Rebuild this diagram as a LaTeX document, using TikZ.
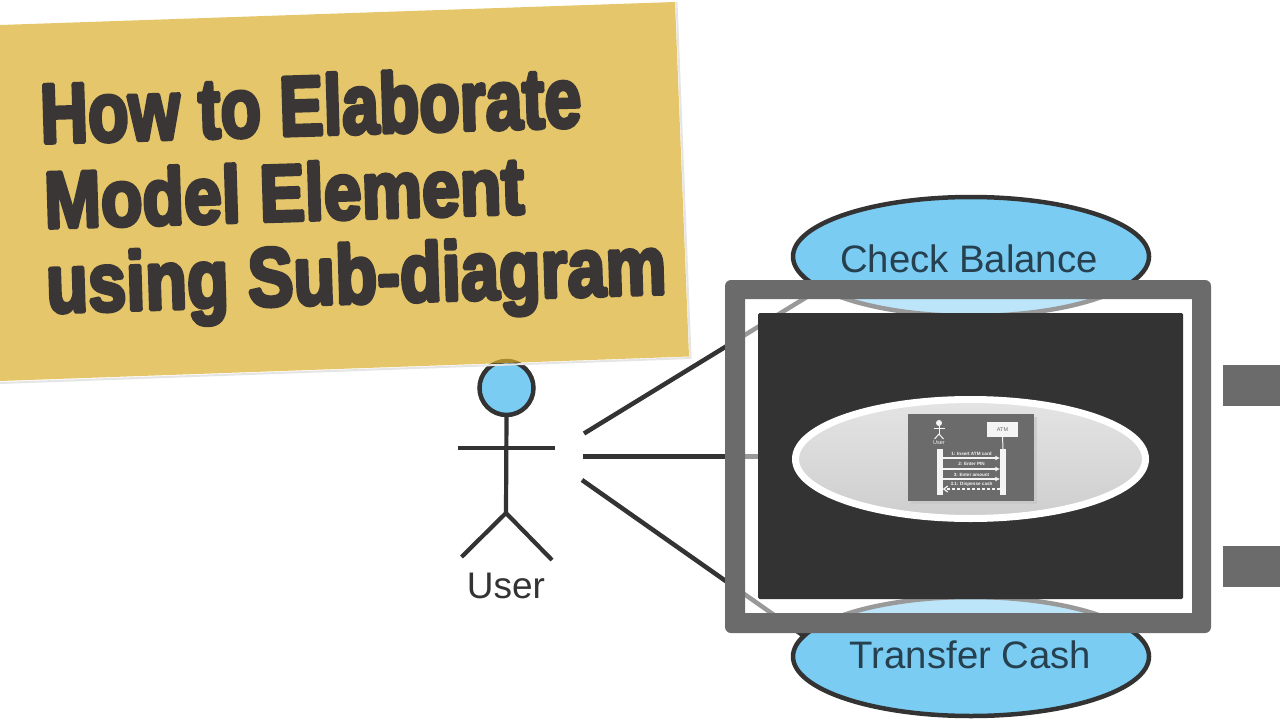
\documentclass[tikz,border=0pt]{standalone}
\usepackage{fontspec}
\usepackage{graphicx}
\setmainfont{Liberation Sans}
\newfontfamily\titlefont[FakeBold=5]{Liberation Sans Bold}
\usetikzlibrary{shapes.geometric,arrows.meta,calc}
\definecolor{ink}{HTML}{333333}
\definecolor{sky}{HTML}{7ACCF3}
\definecolor{slate}{HTML}{6B6B6B}
\definecolor{ucink}{HTML}{27404F}
\definecolor{gold}{HTML}{DAAF2C}
\definecolor{titleink}{HTML}{3A3636}
\definecolor{subline}{HTML}{F4F4F4}
\definecolor{ellipsetop}{HTML}{E4E4E4}
\definecolor{ellipsebot}{HTML}{CECECE}
\tikzset{
  usecase/.style={ellipse,draw=ink,line width=4.5pt,fill=sky,minimum width=356pt,minimum height=119pt,inner sep=0pt,outer sep=0pt},
  uclabel/.style={anchor=base,inner sep=0pt,text=ucink,font=\fontsize{38.3pt}{40pt}\selectfont},
  assoc/.style={draw=ink,line width=4.5pt},
  limb/.style={draw=ink,line width=4.2pt},
  titleline/.style={anchor=base west,inner sep=0pt,outer sep=0pt,text=titleink,rotate=1.75,font=\titlefont},
  stub/.style={fill=slate,draw=none,inner sep=0pt,outer sep=0pt,minimum height=41pt},
  subbar/.style={fill=subline,draw=none,inner sep=0pt,outer sep=0pt,minimum width=5.5pt,minimum height=46pt},
  submsg/.style={draw=subline,line width=1.2pt,-{Latex[length=5pt,width=5pt]}},
  sublabel/.style={inner sep=0pt,text=subline,font=\bfseries\fontsize{4.6pt}{5pt}\selectfont},
}
\begin{document}
\begin{tikzpicture}[x=1pt,y=-1pt]
\useasboundingbox (0,0) rectangle (1280,720);
\fill[white] (0,0) rectangle (1280,720);

% use cases
\node[usecase] (check) at (971,256.5) {};
\node[uclabel] (checkText) at (969,272) {Check Balance};
\node[usecase] (transfer) at (971,656.5) {};
\node[uclabel] (transferText) at (970.5,668) {Transfer Cash};

% actor
\node[circle,draw=ink,line width=4.5pt,fill=sky,minimum size=54pt,inner sep=0pt,outer sep=0pt] (head) at (506.5,388) {};
\coordinate (hip) at (506,513);
\coordinate (armL) at (458,448);
\coordinate (armR) at (555,448);
\coordinate (legL) at (461.5,557);
\coordinate (legR) at (552,560);
\draw[limb] (head.south) -- (hip);
\draw[limb] (armL) -- (armR);
\draw[limb] (legL) -- (hip) -- (legR);
\node[anchor=base,inner sep=0pt,text=ink,font=\fontsize{37pt}{40pt}\selectfont] (user) at (506,598) {User};

% associations
\coordinate (a1) at (584,433.5);
\coordinate (a2) at (583,456.5);
\coordinate (a3) at (582,480);
\coordinate (mid) at (800,456.5);
\draw[assoc] (a1) -- (check.192);
\draw[assoc] (a2) -- (mid);
\draw[assoc] (a3) -- (transfer.173);

% translucent inside of the window
\fill[white,opacity=.5] (745,299) rectangle (1192,613);
% window frame
\path[fill=slate,even odd rule] [rounded corners=6pt] (725,280) rectangle (1211,633) [sharp corners] (745,299) rectangle (1192,613);
% dark panel
\node[fill=ink,draw=none,rounded corners=1.5pt,inner sep=0pt,outer sep=0pt,minimum width=425pt,minimum height=286pt] (panel) at (970.5,456) {};

% central use case
\node[ellipse,draw=white,line width=7pt,top color=ellipsetop,bottom color=ellipsebot,minimum width=350pt,minimum height=119pt,inner sep=0pt,outer sep=0pt] (elab) at (970.5,459) {};

% sub-diagram
\fill[gray!45!white,opacity=.7] (911,417) rectangle (1037,504);
\node[fill=slate,inner sep=0pt,outer sep=0pt,minimum width=126pt,minimum height=87pt] (sub) at (971,457.5) {};
\node[circle,fill=subline,inner sep=0pt,minimum size=6pt] (shead) at (939,423) {};
\coordinate (ship) at (939,434);
\draw[subline,line width=1pt] (shead.south) -- (ship);
\draw[subline,line width=1pt] (933.5,428.5) -- (944.5,428.5);
\draw[subline,line width=1pt] (934.5,439) -- (ship) -- (943.5,439);
\node[sublabel,font=\fontsize{5.5pt}{6pt}\selectfont] (suser) at (939,443) {User};
\node[fill=subline,draw=none,inner sep=0pt,outer sep=0pt,minimum width=31pt,minimum height=15pt,text=slate,font=\fontsize{5.5pt}{6pt}\selectfont] (atm) at (1002.5,429.5) {ATM};
\node[subbar] (barU) at (940,472) {};
\node[subbar] (barA) at (1003,472) {};
\draw[subline,line width=1pt] (atm.south) -- (barA.north);
\draw[submsg] ($(barU.north east)!.196!(barU.south east)$) -- ($(barA.north west)!.196!(barA.south west)$);
\draw[submsg] ($(barU.north east)!.435!(barU.south east)$) -- ($(barA.north west)!.435!(barA.south west)$);
\draw[submsg] ($(barU.north east)!.652!(barU.south east)$) -- ($(barA.north west)!.652!(barA.south west)$);
\draw[draw=subline,line width=1.2pt,dash pattern=on 3pt off 2pt,-{Straight Barb[length=4pt,width=6pt]}] ($(barA.north west)!.87!(barA.south west)$) -- ($(barU.north east)!.87!(barU.south east)$);
\node[sublabel] (m1) at (971.5,453.5) {1: Insert ATM card};
\node[sublabel] (m2) at (971.5,464) {2: Enter PIN};
\node[sublabel] (m3) at (971.5,475) {3: Enter amount};
\node[sublabel] (m4) at (971.5,484.5) {3.1: Dispense cash};

% stubs at the right edge
\node[stub,anchor=north west,minimum width=58pt] (stubA) at (1222.5,364.5) {};
\node[stub,anchor=north west,minimum width=58pt] (stubB) at (1222.5,545.5) {};

% banner
\draw[gray!20!white,line width=2pt] (676.5,2) -- (690.5,358) -- (0,383);
\fill[gold,opacity=.7] (0,25) -- (675,2) -- (689,356.5) -- (0,381) -- cycle;

% title
\begin{scope}[line join=bevel]
\pgfsetbeveljoin
\node[titleline] (t1) at (41,143) {\resizebox{541pt}{61pt}{How to Elaborate}};
\node[titleline] (t2) at (45,228) {\resizebox{480pt}{58pt}{Model Element}};
\node[titleline] (t3) at (47,312.5) {\resizebox{620pt}{60pt}{using Sub-diagram}};
\end{scope}
\end{tikzpicture}
\end{document}
